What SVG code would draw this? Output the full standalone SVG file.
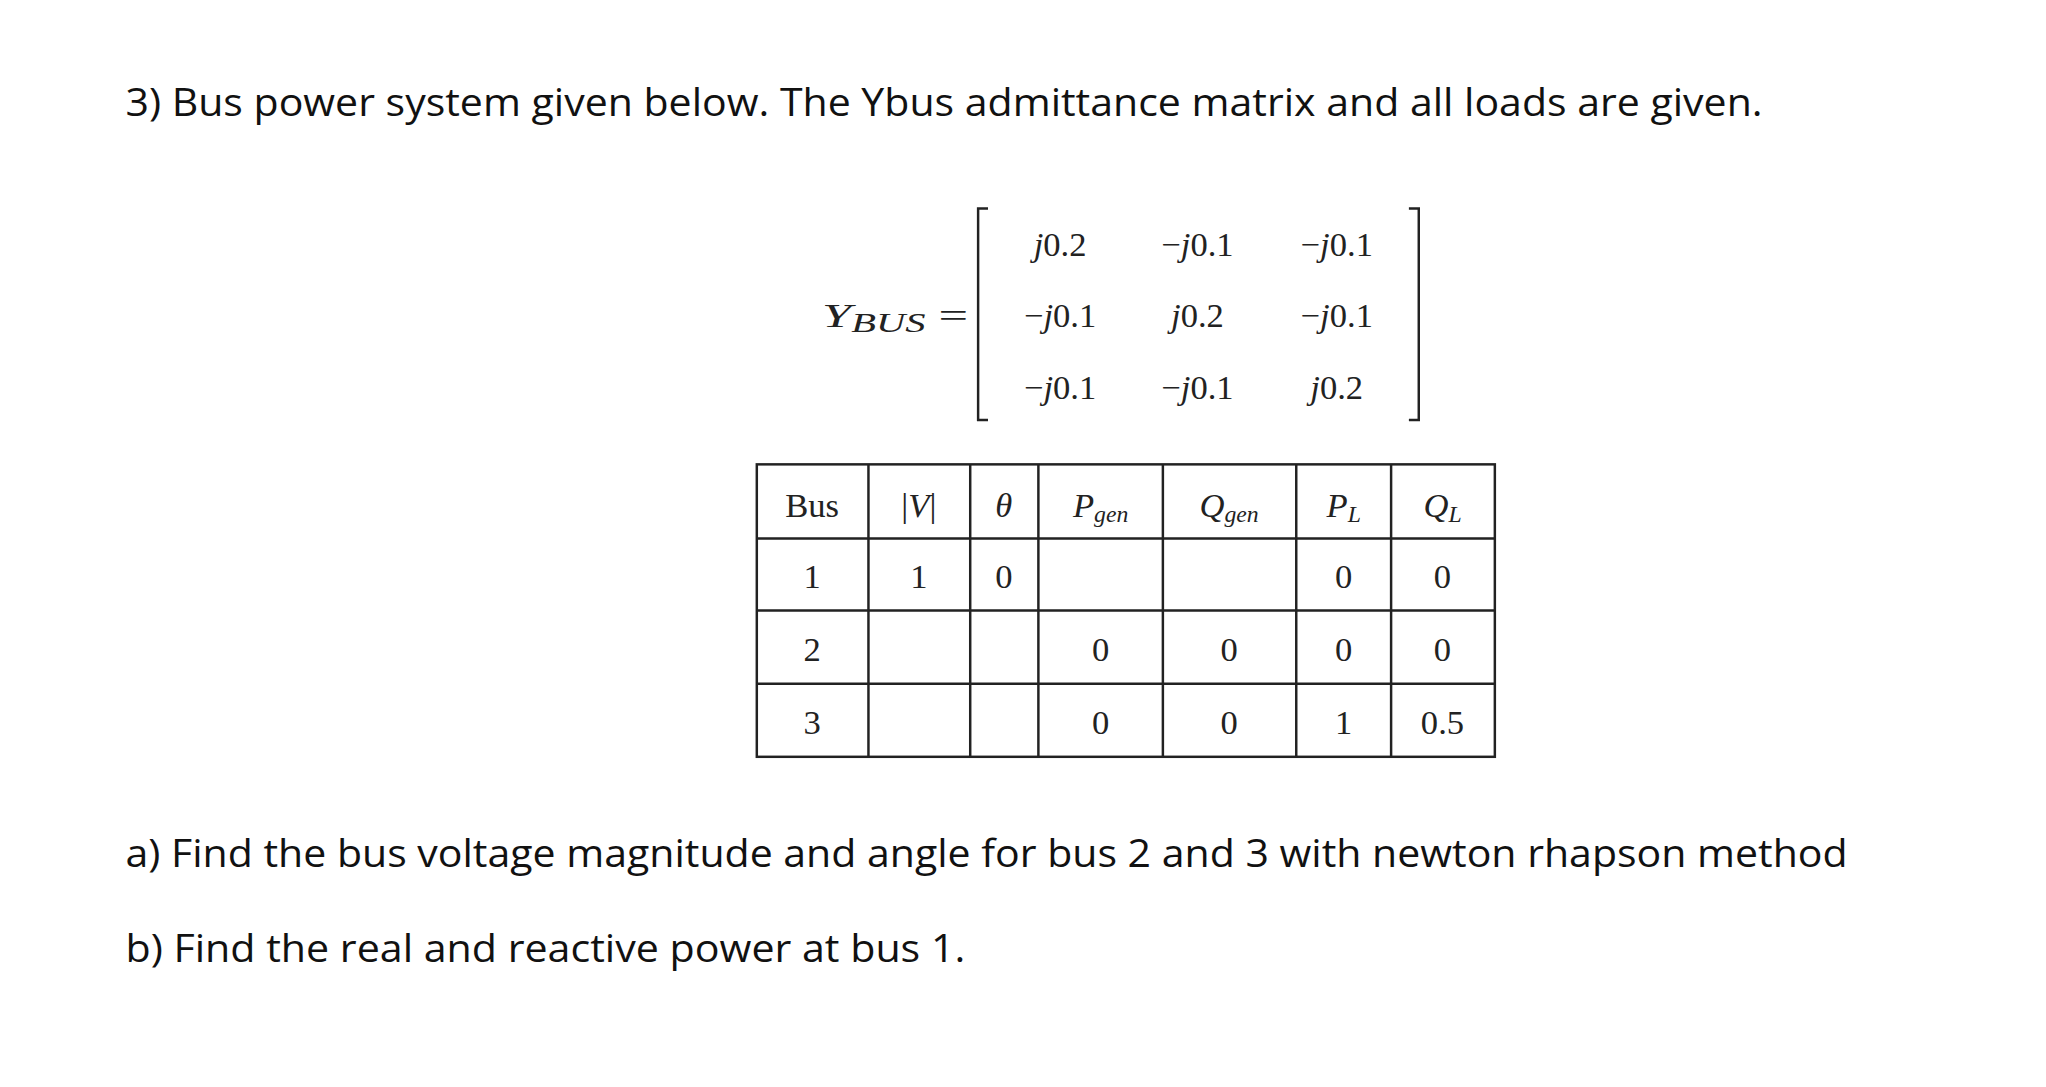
<svg xmlns="http://www.w3.org/2000/svg" width="2046" height="1087" viewBox="0 0 2046 1087">
<style>
.t{font-family:"Open Sans","Liberation Sans",sans-serif;font-size:38px;fill:#111}
.m{font-family:"Liberation Serif",serif;font-size:35px;fill:#222}
.i{font-style:italic}
.c{text-anchor:middle}
.g{stroke:#222;stroke-width:2.5;fill:none}
</style>
<rect width="2046" height="1087" fill="#fff"/>
<g transform="scale(0.988)">
<text class="t" x="127" y="117" textLength="1657" lengthAdjust="spacingAndGlyphs">3) Bus power system given below. The Ybus admittance matrix and all loads are given.</text>
<g id="matrix">
<text class="m" x="832" y="331" font-size="37" textLength="148" lengthAdjust="spacingAndGlyphs"><tspan class="i">Y</tspan><tspan class="i" font-size="27" dy="5">BUS</tspan><tspan dy="-5"> =</tspan></text>
<path class="g" d="M1000 211 H990 V425 H1000 M1426 211 H1436 V425 H1426"/>
<g class="m c">
<text x="1073" y="259"><tspan class="i">j</tspan>0.2</text>
<text x="1212" y="259">−<tspan class="i">j</tspan>0.1</text>
<text x="1353" y="259">−<tspan class="i">j</tspan>0.1</text>
<text x="1073" y="331">−<tspan class="i">j</tspan>0.1</text>
<text x="1212" y="331"><tspan class="i">j</tspan>0.2</text>
<text x="1353" y="331">−<tspan class="i">j</tspan>0.1</text>
<text x="1073" y="404">−<tspan class="i">j</tspan>0.1</text>
<text x="1212" y="404">−<tspan class="i">j</tspan>0.1</text>
<text x="1353" y="404"><tspan class="i">j</tspan>0.2</text>
</g>
</g>
<g id="table">
<rect class="g" x="766" y="470" width="747" height="296"/>
<path class="g" d="M879 470V766M982 470V766M1051 470V766M1177 470V766M1312 470V766M1408 470V766M766 545H1513M766 618H1513M766 692H1513"/>
<g class="m c">
<text x="822" y="523">Bus</text>
<text x="930" y="523">|<tspan class="i">V</tspan>|</text>
<text x="1016" y="523" class="i">θ</text>
<text x="1114" y="523"><tspan class="i">P</tspan><tspan class="i" font-size="24" dy="5">gen</tspan></text>
<text x="1244" y="523"><tspan class="i">Q</tspan><tspan class="i" font-size="24" dy="5">gen</tspan></text>
<text x="1360" y="523"><tspan class="i">P</tspan><tspan class="i" font-size="24" dy="5">L</tspan></text>
<text x="1460" y="523"><tspan class="i">Q</tspan><tspan class="i" font-size="24" dy="5">L</tspan></text>
<text x="822" y="595">1</text><text x="930" y="595">1</text><text x="1016" y="595">0</text><text x="1360" y="595">0</text><text x="1460" y="595">0</text>
<text x="822" y="669">2</text><text x="1114" y="669">0</text><text x="1244" y="669">0</text><text x="1360" y="669">0</text><text x="1460" y="669">0</text>
<text x="822" y="743">3</text><text x="1114" y="743">0</text><text x="1244" y="743">0</text><text x="1360" y="743">1</text><text x="1460" y="743">0.5</text>
</g>
</g>
<text class="t" x="127" y="878" textLength="1743" lengthAdjust="spacingAndGlyphs">a) Find the bus voltage magnitude and angle for bus 2 and 3 with newton rhapson method</text>
<text class="t" x="127" y="974" textLength="850" lengthAdjust="spacingAndGlyphs">b) Find the real and reactive power at bus 1.</text>
</g>
</svg>
